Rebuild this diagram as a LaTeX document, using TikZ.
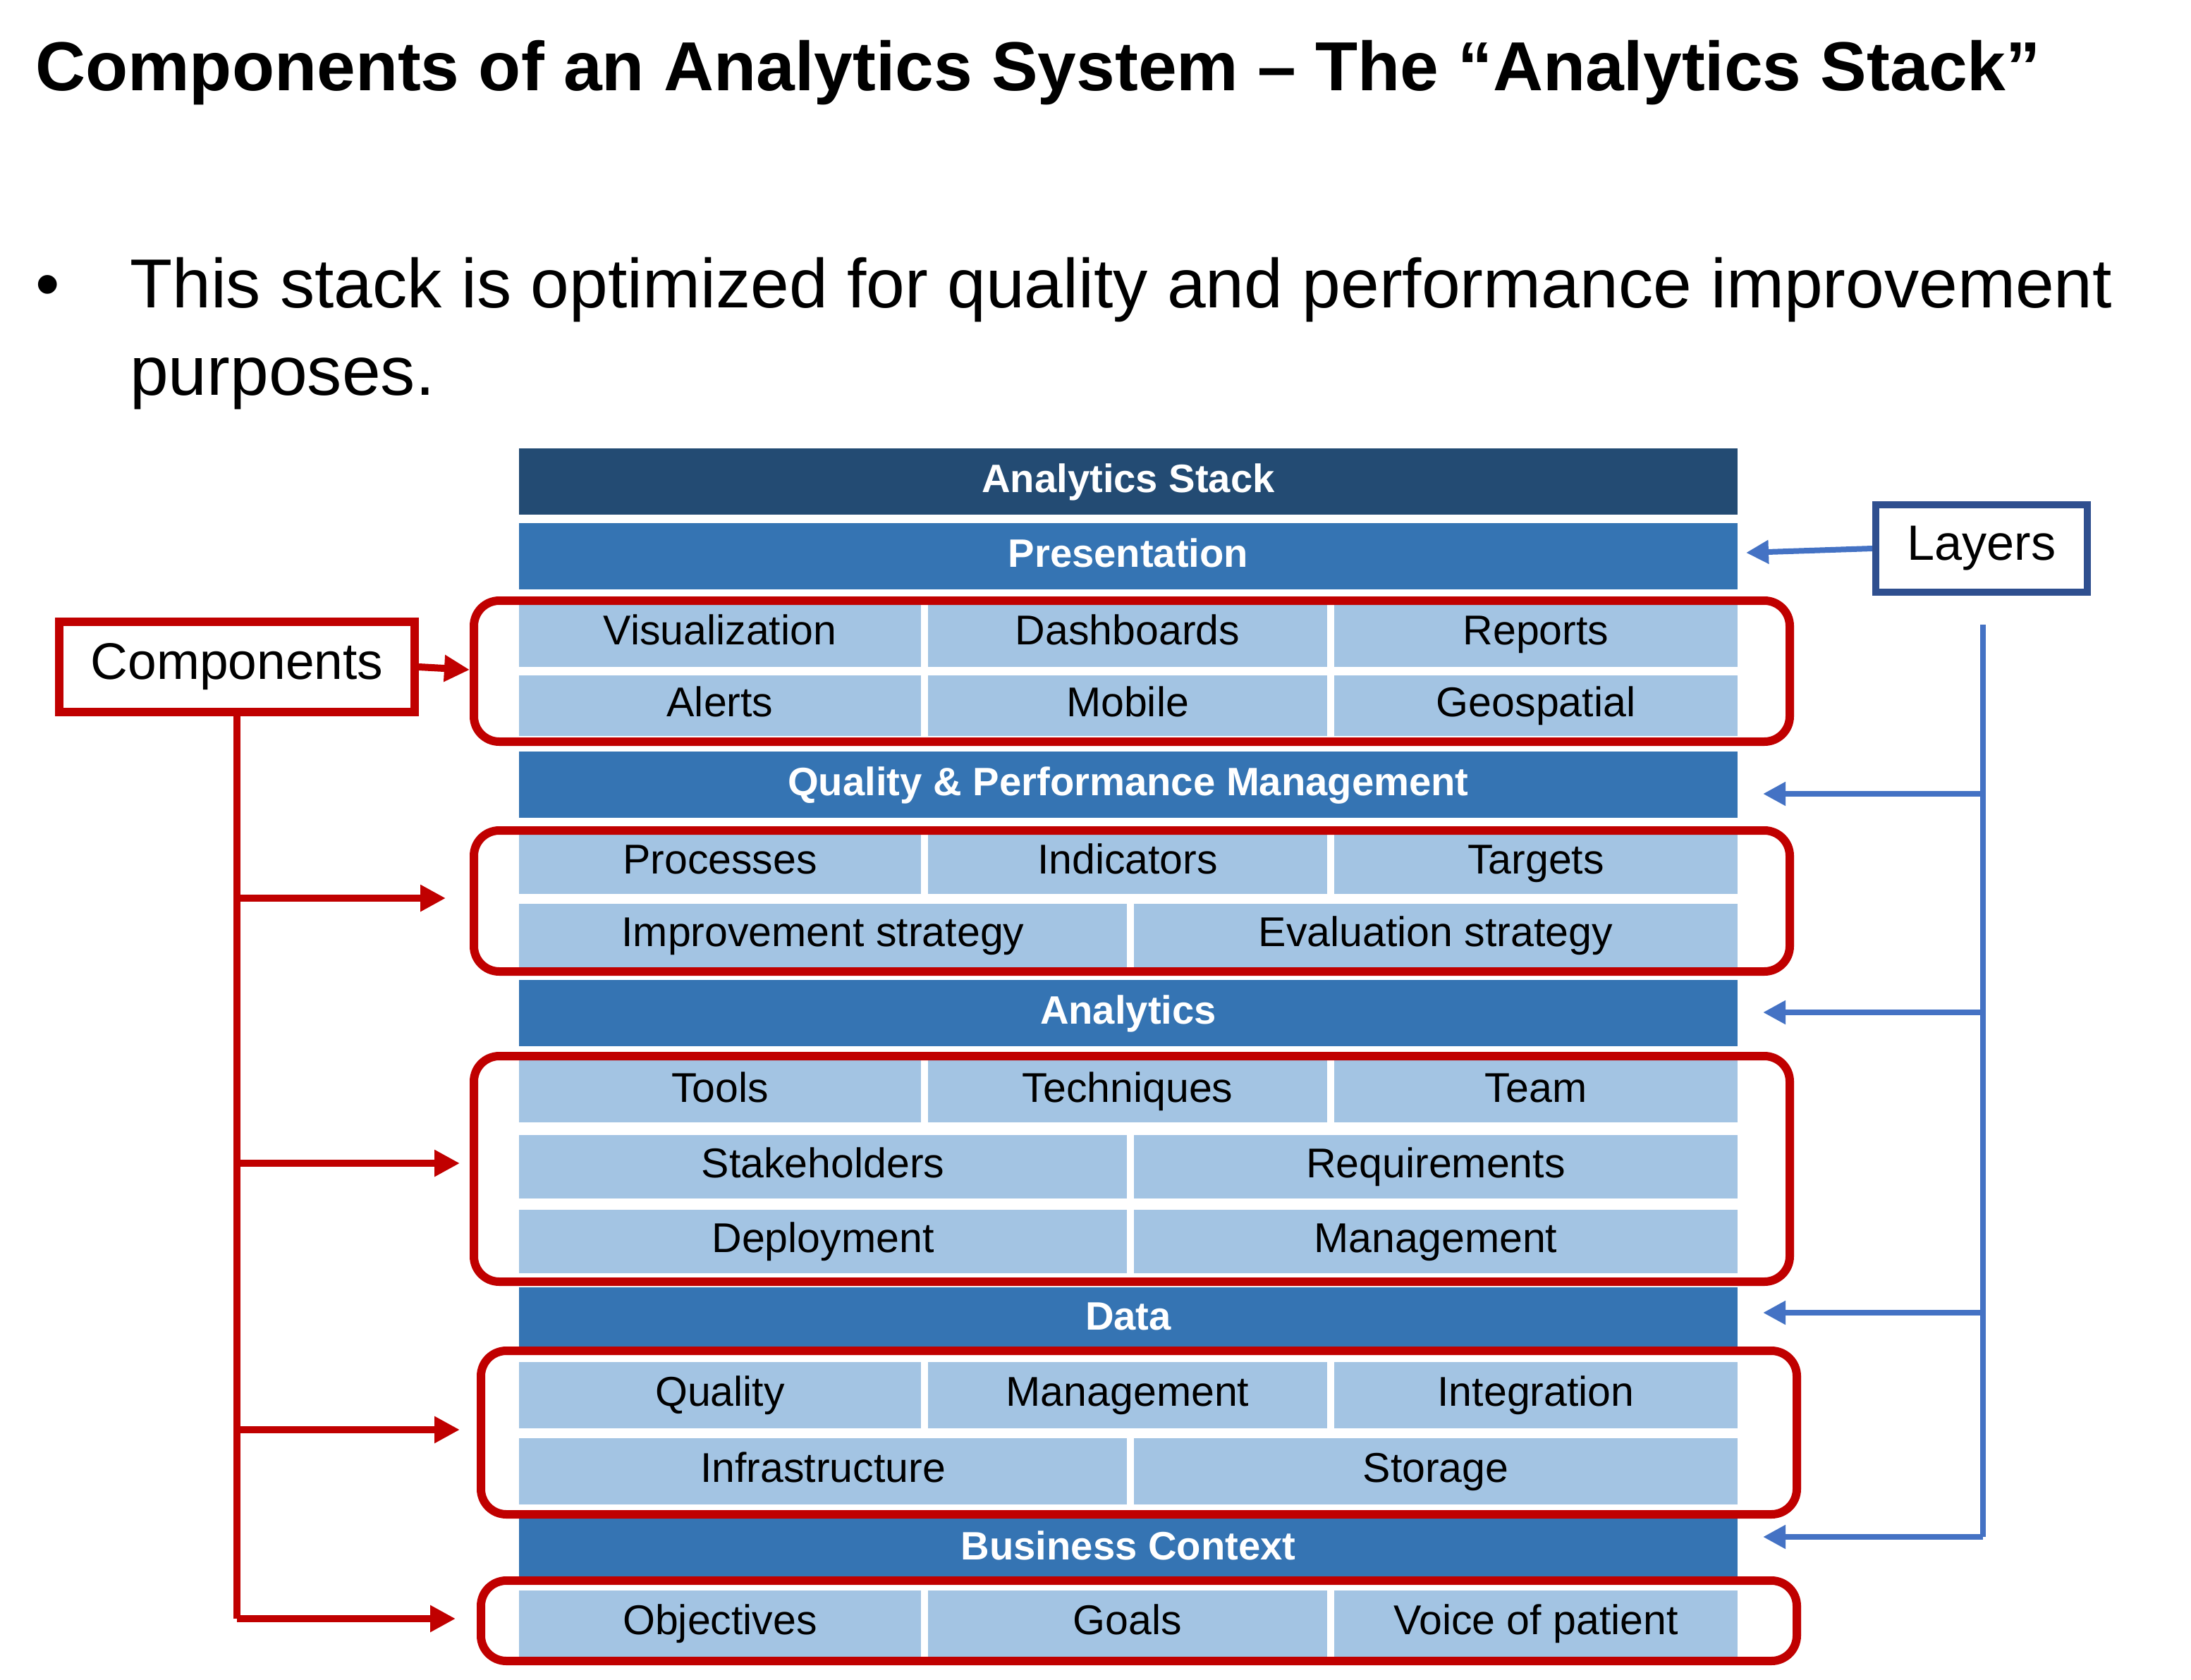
\documentclass[tikz,border=0pt]{standalone}
\usepackage{fontspec}
\setmainfont{Liberation Sans}
\usetikzlibrary{arrows.meta}
\definecolor{navy}{HTML}{234B73}
\definecolor{mblue}{HTML}{3574B3}
\definecolor{lblue}{HTML}{A3C4E3}
\definecolor{dred}{HTML}{C00000}
\definecolor{lay}{HTML}{2F4F8F}
\definecolor{lline}{HTML}{4472C4}
\newcommand{\mycell}[7]{%
  \pgfmathsetmacro{\cw}{(#4-#2)*0.05}\pgfmathsetmacro{\ch}{(#5-#3)*0.05}%
  \node[#7, minimum width=\cw cm, minimum height=\ch cm] (#1) at ({(#2+#4)/2},{(#3+#5)/2}) {#6};}
\tikzset{
  cellbase/.style={inner sep=0pt, text height=30pt, text depth=8pt},
  hd/.style={cellbase, fill=mblue, text=white, font=\fontsize{40}{41}\selectfont\bfseries},
  top/.style={cellbase, fill=navy, text=white, font=\fontsize{40}{41}\selectfont\bfseries},
  it/.style={cellbase, fill=lblue, text=black, font=\fontsize{42}{43}\selectfont},
  rbox/.style={draw=dred, line width=0.3cm, rounded corners=0.9cm},
  rarr/.style={draw=dred, line width=0.25cm, -{Triangle[length=0.9cm,width=0.9cm]}},
  barr/.style={draw=lline, line width=0.2cm, -{Triangle[length=0.8cm,width=0.8cm]}},
}
\begin{document}
\begin{tikzpicture}[x=0.05cm,y=-0.05cm]
\useasboundingbox (0,0) rectangle (1553.5,1191.5);
\node[anchor=base west, font=\fontsize{70}{72}\selectfont\bfseries, inner sep=0] (title) at (25,64) {Components of an Analytics System – The “Analytics Stack”};
\node[anchor=base west, font=\fontsize{70}{72}\selectfont, inner sep=0] (bul) at (25,218) {•};
\node[anchor=base west, font=\fontsize{70}{72}\selectfont, inner sep=0] (b1) at (92,218) {This stack is optimized for quality and performance improvement};
\node[anchor=base west, font=\fontsize{70}{72}\selectfont, inner sep=0] (b2) at (92,280) {purposes.};
% stack
\mycell{as}{368}{318}{1232}{365}{Analytics Stack}{top}
\mycell{pr}{368}{371}{1232}{418}{Presentation}{hd}
\mycell{a1}{368}{426}{653}{473}{Visualization}{it}
\mycell{a2}{658}{426}{941}{473}{Dashboards}{it}
\mycell{a3}{946}{426}{1232}{473}{Reports}{it}
\mycell{a4}{368}{479}{653}{522}{Alerts}{it}
\mycell{a5}{658}{479}{941}{522}{Mobile}{it}
\mycell{a6}{946}{479}{1232}{522}{Geospatial}{it}
\mycell{qp}{368}{533}{1232}{580}{Quality \& Performance Management}{hd}
\mycell{b1c}{368}{590}{653}{634}{Processes}{it}
\mycell{b2c}{658}{590}{941}{634}{Indicators}{it}
\mycell{b3c}{946}{590}{1232}{634}{Targets}{it}
\mycell{b4c}{368}{641}{799}{686}{Improvement strategy}{it}
\mycell{b5c}{804}{641}{1232}{686}{Evaluation strategy}{it}
\mycell{an}{368}{695}{1232}{742}{Analytics}{hd}
\mycell{c1}{368}{752}{653}{796}{Tools}{it}
\mycell{c2}{658}{752}{941}{796}{Techniques}{it}
\mycell{c3}{946}{752}{1232}{796}{Team}{it}
\mycell{c4}{368}{805}{799}{850}{Stakeholders}{it}
\mycell{c5}{804}{805}{1232}{850}{Requirements}{it}
\mycell{c6}{368}{858}{799}{903}{Deployment}{it}
\mycell{c7}{804}{858}{1232}{903}{Management}{it}
\mycell{da}{368}{913}{1232}{958}{Data}{hd}
\mycell{d1}{368}{966}{653}{1013}{Quality}{it}
\mycell{d2}{658}{966}{941}{1013}{Management}{it}
\mycell{d3}{946}{966}{1232}{1013}{Integration}{it}
\mycell{d4}{368}{1020}{799}{1067}{Infrastructure}{it}
\mycell{d5}{804}{1020}{1232}{1067}{Storage}{it}
\mycell{bc}{368}{1077}{1232}{1120}{Business Context}{hd}
\mycell{e1}{368}{1128}{653}{1175}{Objectives}{it}
\mycell{e2}{658}{1128}{941}{1175}{Goals}{it}
\mycell{e3}{946}{1128}{1232}{1175}{Voice of patient}{it}
% red boxes
\draw[rbox] (336,426) rectangle (1269,526);
\draw[rbox] (336,589) rectangle (1269,689);
\draw[rbox] (336,749) rectangle (1269,909);
\draw[rbox] (341,958) rectangle (1274,1074);
\draw[rbox] (341,1121) rectangle (1274,1178);
% components
\node[draw=dred, line width=0.3cm, minimum width=12.6cm, minimum height=3.2cm, font=\fontsize{52}{53}\selectfont, inner sep=0] (comp) at (168,473) {Components};
\coordinate (c0) at (333,475);
\draw[rarr] (comp.east) -- (c0);
\coordinate (r1) at (316,637);
\coordinate (r2) at (326,825);
\coordinate (r3) at (326,1014);
\coordinate (r4) at (323,1148);
\draw[dred, line width=0.25cm] (comp.south) -- (168,1148);
\draw[rarr] (168,637) -- (r1);
\draw[rarr] (168,825) -- (r2);
\draw[rarr] (168,1014) -- (r3);
\draw[rarr] (168,1148) -- (r4);
% layers
\node[draw=lay, line width=0.25cm, minimum width=7.5cm, minimum height=3.1cm, font=\fontsize{50}{51}\selectfont, inner sep=0] (lay) at (1405,389) {Layers};
\coordinate (l0) at (1238,392);
\draw[barr] (lay.west) -- (l0);
\draw[lline, line width=0.2cm] (1406,443) -- (1406,1090);
\coordinate (l1) at (1250,563);
\coordinate (l2) at (1250,718);
\coordinate (l3) at (1250,931);
\coordinate (l4) at (1250,1090);
\draw[barr] (1406,563) -- (l1);
\draw[barr] (1406,718) -- (l2);
\draw[barr] (1406,931) -- (l3);
\draw[barr] (1406,1090) -- (l4);
\end{tikzpicture}
\end{document}
